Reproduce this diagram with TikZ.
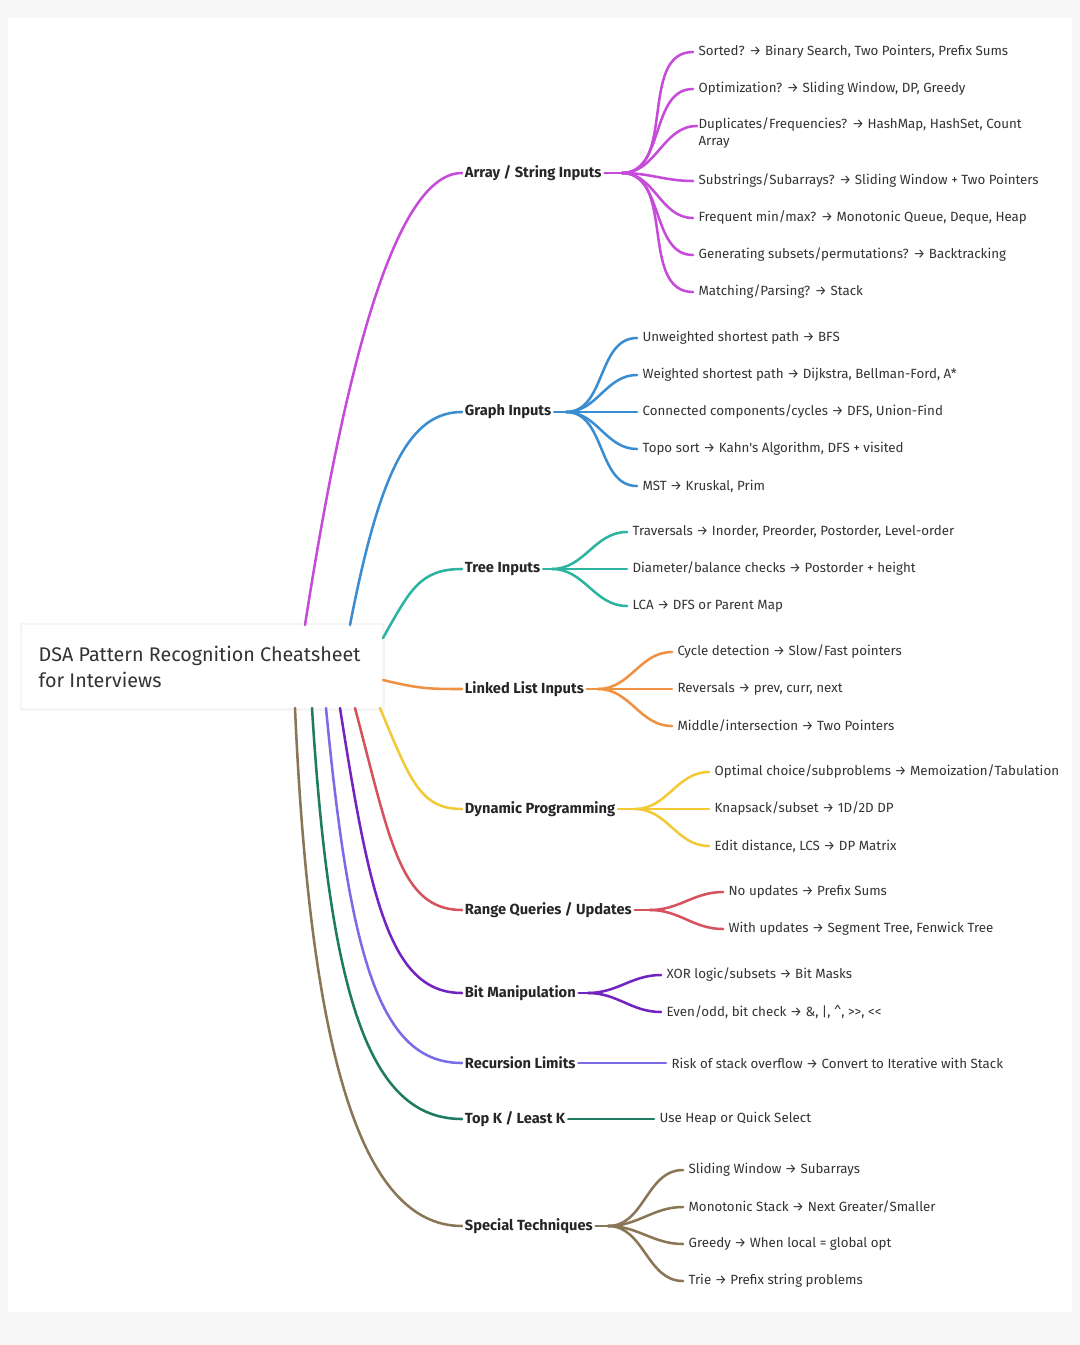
\documentclass[tikz,border=0pt]{standalone}
\usepackage{fontspec}
\setmainfont{Fira Sans}[Ligatures=TeXOff]
\begin{document}
\begin{tikzpicture}[x=0.75pt,y=-0.75pt,
  leaf/.style={font=\fontsize{10}{13}\selectfont,text=black!80,inner xsep=4pt,inner ysep=1pt},
  branch/.style={font=\fontsize{11}{13}\selectfont\bfseries,text=black!85,inner sep=2pt},
  conn/.style={line width=1.9pt,line cap=round}]
\useasboundingbox (0,0) rectangle (1080,1345);
\fill[black!3] (0,0) rectangle (1080,1345);
\fill[white] (8,18) rectangle (1072,1312);
\definecolor{cA}{HTML}{C64BD9}\definecolor{cG}{HTML}{3A8DD0}\definecolor{cT}{HTML}{2DB3A2}
\definecolor{cL}{HTML}{EE9142}\definecolor{cD}{HTML}{F2C936}\definecolor{cR}{HTML}{D6525E}
\definecolor{cB}{HTML}{7324C0}\definecolor{cC}{HTML}{7A6BE6}\definecolor{cK}{HTML}{1F7A62}
\definecolor{cS}{HTML}{8A7656}
% root
\fill[black!4] (20,623) rectangle (385,711);
\node[fill=white,minimum width=360*0.75pt,minimum height=83*0.75pt,inner sep=0pt] (root) at (202,666) {};
\node[anchor=west,align=left,font=\fontsize{14.8}{20}\selectfont,text=black!80] (title) at (34,667) {DSA Pattern Recognition Cheatsheet\\for Interviews};
% branch labels
\node[branch,anchor=west] (bA) at (462,173) {Array / String Inputs};
\node[branch,anchor=west] (bG) at (462,412) {Graph Inputs};
\node[branch,anchor=west] (bT) at (462,569) {Tree Inputs};
\node[branch,anchor=west] (bL) at (462,689) {Linked List Inputs};
\node[branch,anchor=west] (bD) at (462,809) {Dynamic Programming};
\node[branch,anchor=west] (bR) at (462,910) {Range Queries / Updates};
\node[branch,anchor=west] (bB) at (462,993) {Bit Manipulation};
\node[branch,anchor=west] (bC) at (462,1063) {Recursion Limits};
\node[branch,anchor=west] (bK) at (462,1119) {Top K / Least K};
\node[branch,anchor=west] (bS) at (462,1226) {Special Techniques};
% root start points
\coordinate (sA) at (305,625);\coordinate (sG) at (350,625);\coordinate (sT) at (383,638);
\coordinate (sL) at (383,680);\coordinate (sD) at (380,708);\coordinate (sR) at (355,708);
\coordinate (sB) at (340,708);\coordinate (sC) at (326,708);\coordinate (sK) at (312,708);
\coordinate (sS) at (295,708);
\draw[conn,cA] (sA) .. controls (340,400) and (390,173) .. (bA.west);
\draw[conn,cG] (sG) .. controls (380,470) and (410,412) .. (bG.west);
\draw[conn,cT] (sT) .. controls (410,590) and (420,569) .. (bT.west);
\draw[conn,cL] (sL) .. controls (420,689) and (430,689) .. (bL.west);
\draw[conn,cD] (sD) .. controls (410,780) and (420,809) .. (bD.west);
\draw[conn,cR] (sR) .. controls (390,840) and (400,910) .. (bR.west);
\draw[conn,cB] (sB) .. controls (370,900) and (390,993) .. (bB.west);
\draw[conn,cC] (sC) .. controls (350,960) and (380,1063) .. (bC.west);
\draw[conn,cK] (sK) .. controls (330,1000) and (370,1119) .. (bK.west);
\draw[conn,cS] (sS) .. controls (310,1050) and (360,1226) .. (bS.west);
% fan origins
\coordinate (fA) at (622,173);\coordinate (fG) at (566,412);\coordinate (fT) at (552,569);
\coordinate (fL) at (598,689);\coordinate (fD) at (635,809);\coordinate (fR) at (650,910);
\coordinate (fB) at (588,993);\coordinate (fS) at (608,1226);
\draw[conn,cA] (bA.east) -- (fA);\draw[conn,cG] (bG.east) -- (fG);\draw[conn,cT] (bT.east) -- (fT);
\draw[conn,cL] (bL.east) -- (fL);\draw[conn,cD] (bD.east) -- (fD);\draw[conn,cR] (bR.east) -- (fR);
\draw[conn,cB] (bB.east) -- (fB);\draw[conn,cS] (bS.east) -- (fS);
% leaves
\newcommand{\lf}[6]{\node[leaf,anchor=west] (#1) at (#3,#4) {#5};
  \draw[conn,#6] (#2) to[out=0,in=180] (#1.west);}
\lf{a1}{fA}{693}{52}{Sorted? → Binary Search, Two Pointers, Prefix Sums}{cA}
\lf{a2}{fA}{693}{89}{Optimization? → Sliding Window, DP, Greedy}{cA}
\node[leaf,anchor=north west,align=left] (a3) at (693,116) {Duplicates/Frequencies? → HashMap, HashSet, Count\\Array};
\coordinate (a3c) at (697,126);
\draw[conn,cA] (fA) to[out=0,in=180] (a3c);
\lf{a4}{fA}{693}{181}{Substrings/Subarrays? → Sliding Window + Two Pointers}{cA}
\lf{a5}{fA}{693}{218}{Frequent min/max? → Monotonic Queue, Deque, Heap}{cA}
\lf{a6}{fA}{693}{255}{Generating subsets/permutations? → Backtracking}{cA}
\lf{a7}{fA}{693}{292}{Matching/Parsing? → Stack}{cA}
\lf{g1}{fG}{637}{338}{Unweighted shortest path → BFS}{cG}
\lf{g2}{fG}{637}{375}{Weighted shortest path → Dijkstra, Bellman-Ford, A*}{cG}
\lf{g3}{fG}{637}{412}{Connected components/cycles → DFS, Union-Find}{cG}
\lf{g4}{fG}{637}{449}{Topo sort → Kahn's Algorithm, DFS + visited}{cG}
\lf{g5}{fG}{637}{486}{MST → Kruskal, Prim}{cG}
\lf{t1}{fT}{627}{532}{Traversals → Inorder, Preorder, Postorder, Level-order}{cT}
\lf{t2}{fT}{627}{569}{Diameter/balance checks → Postorder + height}{cT}
\lf{t3}{fT}{627}{606}{LCA → DFS or Parent Map}{cT}
\lf{l1}{fL}{672}{652}{Cycle detection → Slow/Fast pointers}{cL}
\lf{l2}{fL}{672}{689}{Reversals → prev, curr, next}{cL}
\lf{l3}{fL}{672}{726}{Middle/intersection → Two Pointers}{cL}
\lf{d1}{fD}{709}{772}{Optimal choice/subproblems → Memoization/Tabulation}{cD}
\lf{d2}{fD}{709}{809}{Knapsack/subset → 1D/2D DP}{cD}
\lf{d3}{fD}{709}{846}{Edit distance, LCS → DP Matrix}{cD}
\lf{r1}{fR}{723}{892}{No updates → Prefix Sums}{cR}
\lf{r2}{fR}{723}{929}{With updates → Segment Tree, Fenwick Tree}{cR}
\lf{x1}{fB}{661}{975}{XOR logic/subsets → Bit Masks}{cB}
\lf{x2}{fB}{661}{1012}{Even/odd, bit check → \&, |, \^{}, >>, <<}{cB}
\lf{c1}{bC.east}{666}{1063}{Risk of stack overflow → Convert to Iterative with Stack}{cC}
\lf{k1}{bK.east}{654}{1119}{Use Heap or Quick Select}{cK}
\lf{s1}{fS}{683}{1170}{Sliding Window → Subarrays}{cS}
\lf{s2}{fS}{683}{1207}{Monotonic Stack → Next Greater/Smaller}{cS}
\lf{s3}{fS}{683}{1244}{Greedy → When local = global opt}{cS}
\lf{s4}{fS}{683}{1281}{Trie → Prefix string problems}{cS}
\end{tikzpicture}
\end{document}
